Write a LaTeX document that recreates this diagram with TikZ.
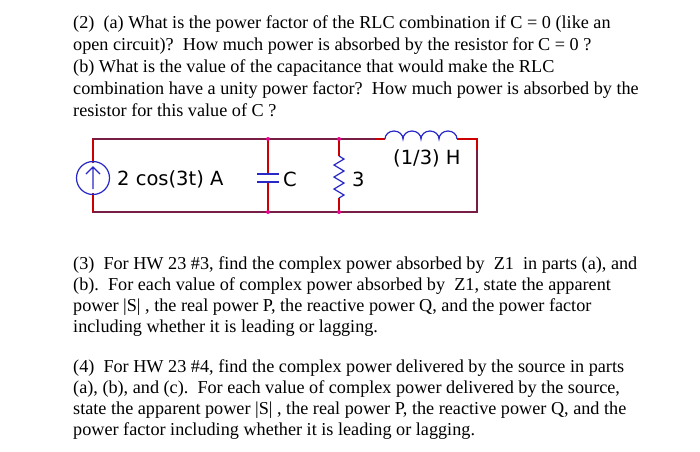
\documentclass[tikz,border=0pt]{standalone}
\usepackage{fontspec}
\setmainfont{Liberation Serif}
\newfontfamily\circfont{DejaVu Sans}
\begin{document}
\begin{tikzpicture}[x=1pt,y=-1pt,
  txt/.style={anchor=base west,inner sep=0pt,font=\fontsize{18.2}{22}\selectfont},
  wire/.style={draw=wirec,line width=1.3pt},
  red/.style={draw=red!80!black,line width=1.3pt},
  comp/.style={draw=compc,line width=1.2pt},
  dot/.style={circle,fill=magenta,inner sep=0pt,minimum size=4pt},
  clab/.style={font=\circfont\fontsize{19.5}{22}\selectfont,inner sep=0pt}]
\definecolor{wirec}{RGB}{120,30,70}
\definecolor{compc}{RGB}{40,40,200}
\useasboundingbox (0,0) rectangle (700,451);
\fill[white] (0,0) rectangle (700,451);
% text
\node[txt] (l1) at (73,28) {(2)\ \ (a) What is the power factor of the RLC combination if C = 0 (like an};
\node[txt] (l2) at (73,50) {open circuit)?\ \ How much power is absorbed by the resistor for C = 0 ?};
\node[txt] (l3) at (73,72) {(b) What is the value of the capacitance that would make the RLC};
\node[txt] (l4) at (73,94) {combination have a unity power factor?\ \ How much power is absorbed by the};
\node[txt] (l5) at (73,116) {resistor for this value of C ?};
\node[txt] (m1) at (73,269) {(3)\ \ For HW 23 \#3, find the complex power absorbed by\ \ Z1\ \ in parts (a), and};
\node[txt] (m2) at (73,290) {(b).\ \ For each value of complex power absorbed by\ \ Z1, state the apparent};
\node[txt] (m3) at (73,311) {power |S| , the real power P, the reactive power Q, and the power factor};
\node[txt] (m4) at (73,332) {including whether it is leading or lagging.};
\node[txt] (n1) at (73,372) {(4)\ \ For HW 23 \#4, find the complex power delivered by the source in parts};
\node[txt] (n2) at (73,393) {(a), (b), and (c).\ \ For each value of complex power delivered by the source,};
\node[txt] (n3) at (73,414) {state the apparent power |S| , the real power P, the reactive power Q, and the};
\node[txt] (n4) at (73,435) {power factor including whether it is leading or lagging.};
% circuit coordinates
\coordinate (tl) at (93,139); \coordinate (bl) at (93,212);
\coordinate (tr) at (477,139); \coordinate (br) at (477,212);
\coordinate (ct) at (268,139); \coordinate (cb) at (268,212);
\coordinate (rt) at (339,139); \coordinate (rb) at (339,212);
\coordinate (ls) at (385,139); \coordinate (le) at (457,139);
% wires
\draw[wire] (93,163) -- (tl) -- (ct) -- (rt) -- (375,139);
\draw[wire] (93,193) -- (bl) -- (cb) -- (rb) -- (br) -- (477,150);
\draw[red] (375,139) -- (ls); \draw[red] (le) -- (tr) -- (477,150);
\draw[red] (ct) -- (268,174); \draw[red] (268,182) -- (cb);
\draw[red] (rt) -- (339,156); \draw[red] (339,198) -- (rb);
% source
\node[circle,draw=compc,line width=1.2pt,minimum size=33pt,inner sep=0pt] (src) at (93,178) {};
\draw[compc,line width=1.2pt] (93,189) -- (93,167) (86,174) -- (93,167) -- (100,174);
\draw[red] (tl) -- (src.north); \draw[red] (bl) -- (src.south);
\node[clab,anchor=west] (srcl) at (117,179) {2 cos(3t) A};
% capacitor
\draw[comp] (257,174) -- (279,174) (257,182) -- (279,182);
\node[clab,anchor=west] (cl) at (283,179) {C};
% resistor
\draw[comp] (339,156) -- (344,159) -- (334,165) -- (344,171) -- (334,177) -- (344,183) -- (334,189) -- (344,195) -- (339,198);
\node[clab,anchor=west] (rl) at (352,179) {3};
% inductor
\draw[comp] (ls) arc[start angle=180,end angle=360,x radius=9,y radius=8]
  arc[start angle=180,end angle=360,x radius=9,y radius=8]
  arc[start angle=180,end angle=360,x radius=9,y radius=8]
  arc[start angle=180,end angle=360,x radius=9,y radius=8];
\node[clab,anchor=west] (ll) at (393,158) {(1/3) H};
% dots
\foreach \p in {ct,cb,rt,rb} \node[dot] at (\p) {};
\end{tikzpicture}
\end{document}
